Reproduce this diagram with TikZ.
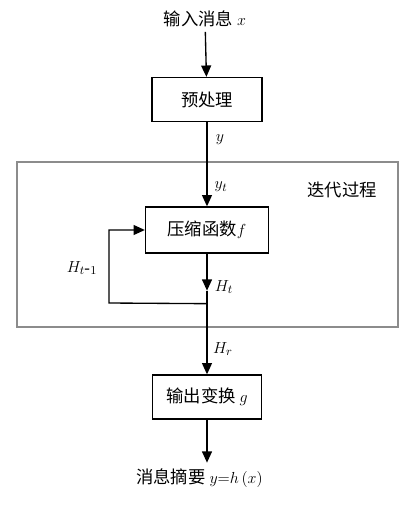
\documentclass[tikz,border=0pt]{standalone}
\usepackage{fontspec}
\newfontfamily\cjk{Noto Sans CJK SC}
\usetikzlibrary{calc,arrows.meta}

\begin{document}
\begin{tikzpicture}[x=0.75pt, y=-0.75pt,
  font=\cjk\fontsize{13}{15}\selectfont,
  stepbox/.style={draw=black, line width=1pt, fill=white, minimum height=33pt},
  flow/.style={-{Triangle[length=8.5pt,width=7.5pt]}, line width=1pt},
  lbl/.style={inner sep=1pt}]

\useasboundingbox (0,0) rectangle (410,511);

\node[draw=black!45, line width=1pt, minimum width=285.75pt, minimum height=123.75pt] (iter) at (207.5,244.5) {};
\node (itertext) at (342,190) {迭代过程};

\node (in) at (205,19) {输入消息 $x$};

\node[stepbox, minimum width=82.5pt] (pre) at (207,99.5) {预处理};

\node[stepbox, minimum width=92.25pt, minimum height=34.5pt] (cmp) at ($(pre) + (0,130.5)$) {压缩函数$f$};

\node[stepbox, minimum width=81.75pt] (out) at ($(cmp) + (0,167)$) {输出变换 $g$};

\node (res) at ($(out) + (-7.5,81)$) {消息摘要 $y{=}h\,(x)$};

\coordinate (ht) at ($(cmp.south) + (0,37)$);
\coordinate (split) at ($(cmp.south) + (0,50)$);
\coordinate (back) at (109,303);

\draw[flow] (in) -- (pre);
\draw[flow] (pre) -- (cmp);
\draw[flow] (cmp) -- (ht);
\draw[flow] (ht) -- (out);
\draw[flow] (out) -- ($(out.south) + (0,43)$);
\draw[flow] (split) -- (back) |- (cmp.west);

\node[lbl] (ylbl) at (220,140) {$y$};
\node[lbl] (ytlbl) at (221,187) {$y_t$};
\node[lbl] (htlbl) at (224,287) {$H_t$};
\node[lbl] (hprev) at (82,268) {$H_{t\mbox{-}1}$};
\node[lbl] (hrlbl) at (223,349) {$H_r$};

\end{tikzpicture}
\end{document}
